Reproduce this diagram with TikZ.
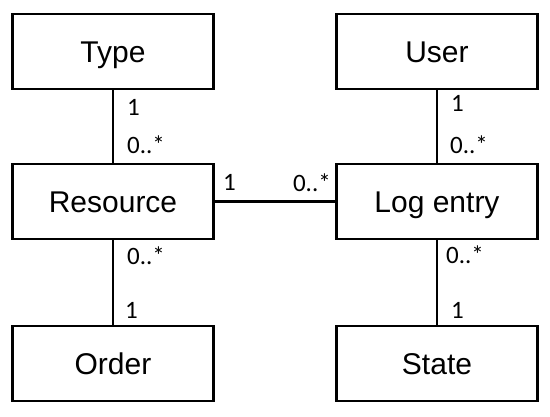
\documentclass[tikz,border=0pt]{standalone}
\usepackage{fontspec}
\setmainfont{Liberation Sans}
\newfontfamily\labfont{Carlito}
\begin{document}
\begin{tikzpicture}[x=1pt,y=-1pt,
  cls/.style={draw,line width=2.6pt,minimum width=201pt,minimum height=75pt,inner sep=0pt,
    text height=21.5pt,text depth=0pt,font=\fontsize{30}{36}\selectfont},
  conn/.style={line width=2.6pt},
  mult/.style={inner sep=0pt,text height=15.5pt,text depth=0pt,font=\labfont\fontsize{25}{29}\selectfont}]
\useasboundingbox (0,0) rectangle (550,417);
\node[cls] (type) at (113,51.5) {Type};
\node[cls] (user) at (437,51.5) {User};
\node[cls] (res) at (113,201.5) {Resource};
\node[cls] (log) at (437,201.5) {Log entry};
\node[cls] (order) at (113,363.5) {Order};
\node[cls] (state) at (437,363.5) {State};
\draw[conn] (type) -- (res);
\draw[conn] (user) -- (log);
\draw[conn] (res) -- (log);
\draw[conn] (res) -- (order);
\draw[conn] (log) -- (state);
\node[mult,anchor=west] (m1) at (127,108) {1};
\node[mult,anchor=west] (m2) at (127,146) {0..*};
\node[mult,anchor=west] (m3) at (223,183) {1};
\node[mult,anchor=east] (m4) at (331,184) {0..*};
\node[mult,anchor=west] (m5) at (451,104) {1};
\node[mult,anchor=west] (m6) at (450,146) {0..*};
\node[mult,anchor=west] (m7) at (127,257) {0..*};
\node[mult,anchor=west] (m8) at (125,311) {1};
\node[mult,anchor=west] (m9) at (446,256) {0..*};
\node[mult,anchor=west] (m10) at (451,311) {1};
\end{tikzpicture}
\end{document}
